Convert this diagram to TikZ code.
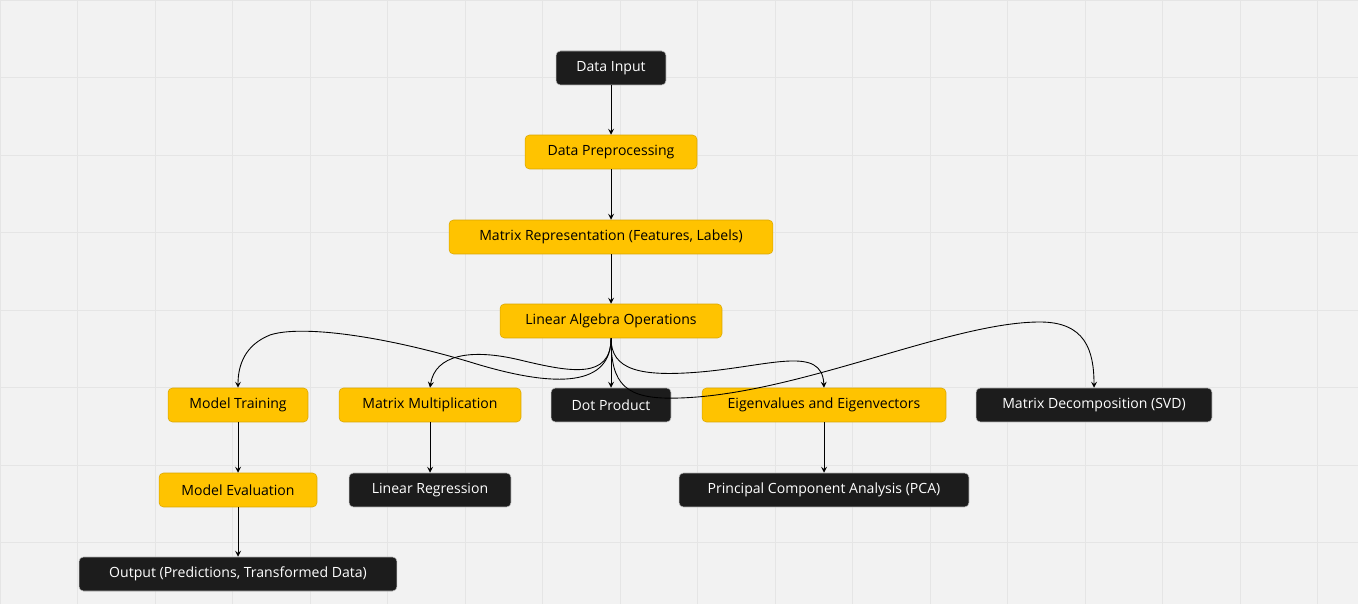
\documentclass[tikz,border=0pt]{standalone}
\usepackage{fontspec}
\setmainfont{Open Sans}
\begin{document}
\begin{tikzpicture}[x=0.02cm,y=-0.02cm,
    box/.style={rounded corners=2.5pt, minimum height=0.68cm, font=\fontsize{8}{10}\selectfont, inner sep=0pt},
    yel/.style={box, fill=ybox, draw=ybox!85!black, line width=0.3pt, text=black},
    blk/.style={box, fill=bbox, draw=gray!60, line width=0.3pt, text=white},
    arr/.style={->, >={stealth}, line width=0.5pt}]
\definecolor{ybox}{HTML}{FFC300}
\definecolor{bbox}{HTML}{1C1C1C}
\fill[black!5] (0,0) rectangle (1358,604);
\useasboundingbox (0,0) rectangle (1358,604);
\foreach \x in {0,77.5,...,1358} \draw[black!10, line width=0.3pt] (\x,0) -- (\x,604);
\foreach \y in {0,77.5,...,604} \draw[black!10, line width=0.3pt] (0,\y) -- (1358,\y);
\node (input) [blk, minimum width=2.2cm] at (611,68) {Data Input};
\node (prep) [yel, minimum width=3.44cm] at (611,152) {Data Preprocessing};
\node (matrix) [yel, minimum width=6.48cm] at (611,237) {Matrix Representation (Features, Labels)};
\node (linalg) [yel, minimum width=4.44cm] at (611,321) {Linear Algebra Operations};
\node (train) [yel, minimum width=2.8cm] at (238,405) {Model Training};
\node (mult) [yel, minimum width=3.64cm] at (430,405) {Matrix Multiplication};
\node (dot) [blk, minimum width=2.4cm] at (611,405) {Dot Product};
\node (eigen) [yel, minimum width=4.88cm] at (824,405) {Eigenvalues and Eigenvectors};
\node (svd) [blk, minimum width=4.72cm] at (1094,405) {Matrix Decomposition (SVD)};
\node (eval) [yel, minimum width=3.16cm] at (238,490) {Model Evaluation};
\node (regr) [blk, minimum width=3.24cm] at (430,490) {Linear Regression};
\node (pca) [blk, minimum width=5.8cm] at (824,490) {Principal Component Analysis (PCA)};
\node (out) [blk, minimum width=6.36cm] at (238,574) {Output (Predictions, Transformed Data)};
\draw [arr] (input) -- (prep);
\draw [arr] (prep) -- (matrix);
\draw [arr] (matrix) -- (linalg);
\draw [arr] (linalg) -- (dot);
\draw [arr] (linalg.south) .. controls (611,385) and (560,390) .. (470,362) .. controls (380,335) and (300,325) .. (270,335) .. controls (245,345) and (238,365) .. (train.north);
\draw [arr] (linalg.south) .. controls (611,380) and (570,372) .. (520,360) .. controls (470,348) and (435,355) .. (mult.north);
\draw [arr] (linalg.south) .. controls (611,370) and (640,377) .. (700,372) .. controls (770,366) and (822,345) .. (eigen.north);
\draw [arr] (linalg.south) .. controls (611,385) and (625,400) .. (680,398) .. controls (800,394) and (950,322) .. (1040,322) .. controls (1085,322) and (1094,350) .. (svd.north);
\draw [arr] (train) -- (eval);
\draw [arr] (eval) -- (out);
\draw [arr] (mult) -- (regr);
\draw [arr] (eigen) -- (pca);
\end{tikzpicture}
\end{document}
